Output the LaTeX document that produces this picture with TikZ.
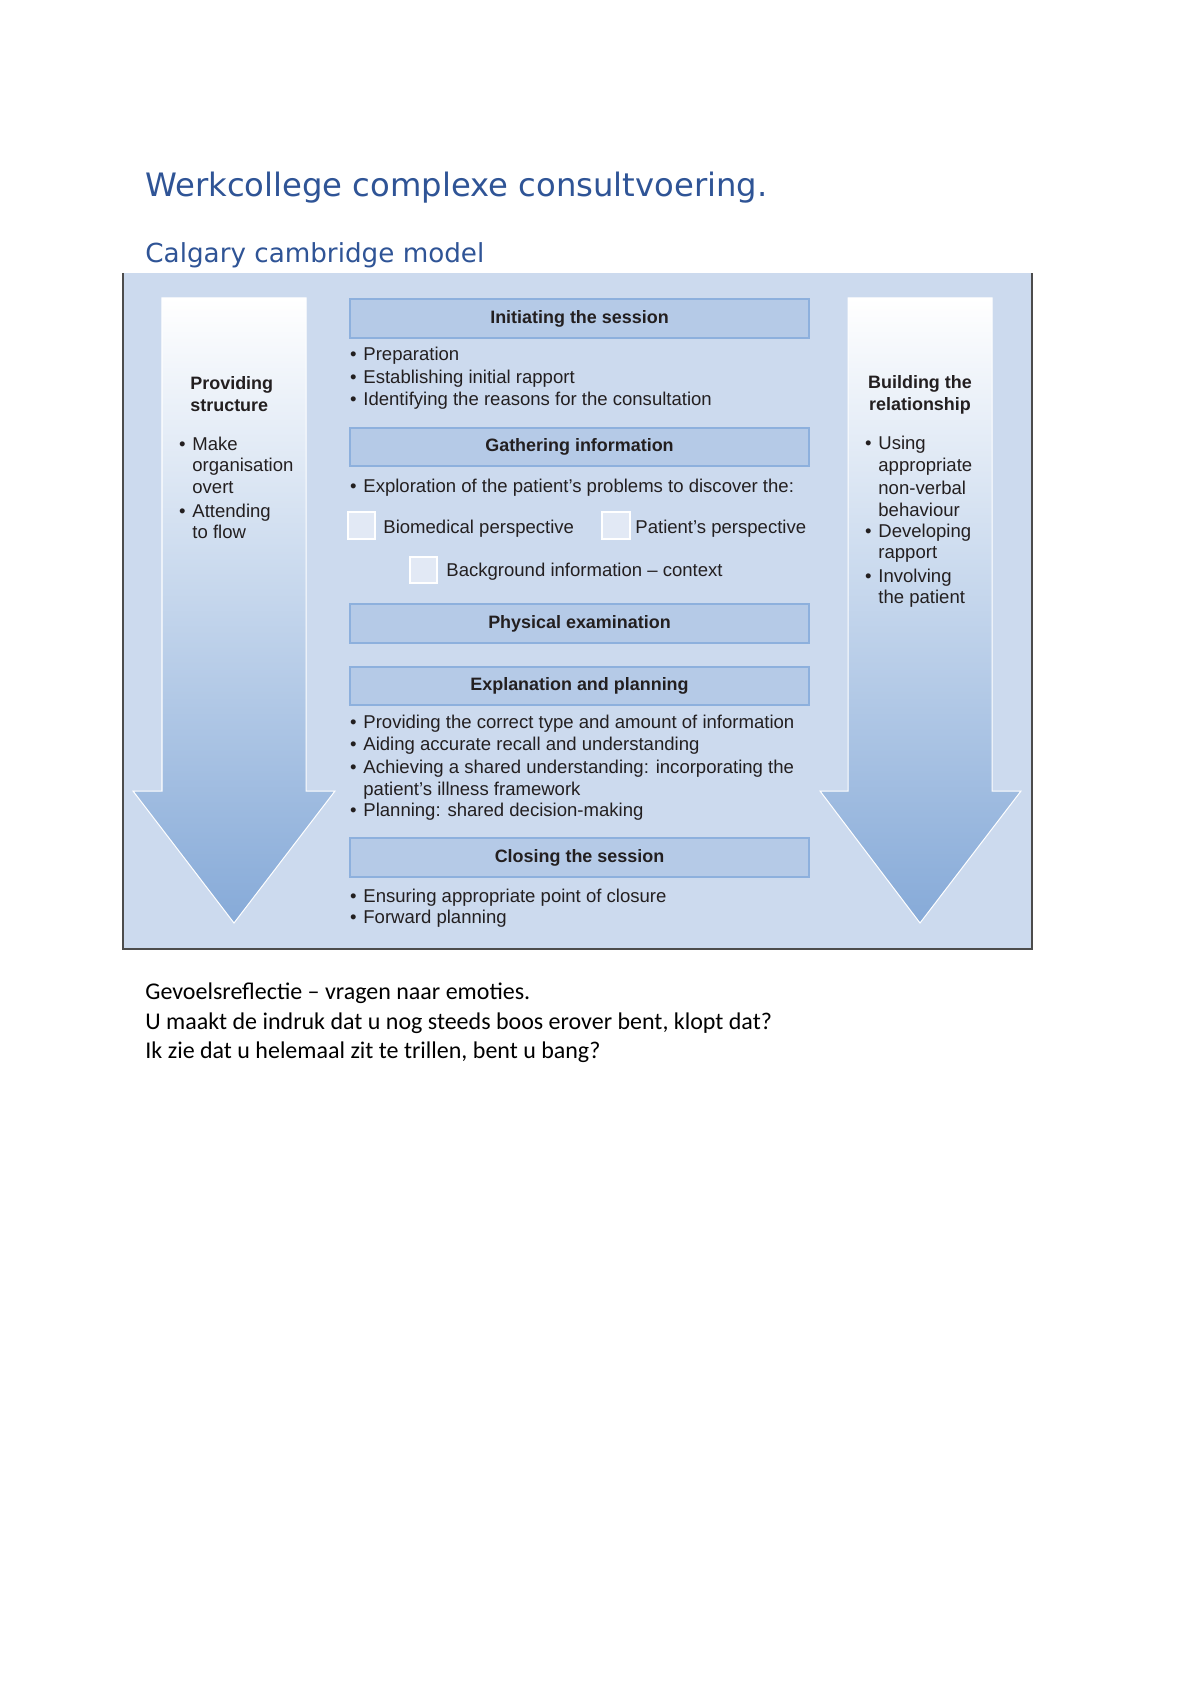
\documentclass[tikz,border=0pt]{standalone}
\usepackage{fontspec}
\setmainfont{Liberation Sans}
\newfontfamily\headfont{DejaVu Sans}
\newfontfamily\notefont{Carlito}

\definecolor{headblue}{HTML}{2F5496}
\definecolor{panelblue}{HTML}{CCDAEE}
\definecolor{stagefill}{HTML}{B5CAE7}
\definecolor{stageline}{HTML}{8DB0DD}
\definecolor{arrowblue}{HTML}{86AAD8}
\definecolor{chkfill}{HTML}{E2E9F5}
\definecolor{inktext}{HTML}{231F20}

\newcommand{\itembul}{\llap{\textbullet\hspace{3.4pt}}}

\tikzset{
  stagebox/.style={draw=stageline, fill=stagefill, line width=0.75pt},
  stagetitle/.style={font=\fontsize{8.9}{10}\selectfont\bfseries, text=inktext},
  bodytext/.style={anchor=base west, inner sep=0pt, font=\fontsize{9.2}{10.9}\selectfont, text=inktext},
  sidehead/.style={anchor=base west, inner sep=0pt, font=\fontsize{8.9}{10.9}\selectfont\bfseries, text=inktext},
  chkbox/.style={draw=white, fill=chkfill, line width=0.6pt},
  flowarrow/.style={draw=white, line width=0.5pt, top color=white, bottom color=arrowblue},
  notetext/.style={anchor=base west, inner sep=0pt, font=\notefont\fontsize{11.9}{14}\selectfont},
}

\begin{document}
\begin{tikzpicture}[x=0.49608pt, y=-0.49608pt]
\useasboundingbox (0,0) rectangle (1200,1698);
\fill[white] (0,0) rectangle (1200,1698);

\node[anchor=base west, inner sep=0pt, font=\headfont\fontsize{16}{19}\selectfont, text=headblue] (title) at (145,197) {Werkcollege complexe consultvoering.};
\node[anchor=base west, inner sep=0pt, font=\headfont\fontsize{13}{15}\selectfont, text=headblue] (subtitle) at (145,263) {Calgary cambridge model};

\fill[panelblue] (123,273) rectangle (1032,949);
\draw[black!70, line width=0.75pt] (123,273) -- (123,949) -- (1032,949) -- (1032,273);

\shadedraw[flowarrow] (162,298) -- (306,298) -- (306,791) -- (335,791) -- (234,923) -- (133,791) -- (162,791) -- cycle;
\shadedraw[flowarrow] (848,298) -- (992,298) -- (992,791) -- (1021,791) -- (920,923) -- (820,791) -- (848,791) -- cycle;

\draw[stagebox] (350,299) rectangle (809,338) node[midway, stagetitle] (initbox) {Initiating the session};
\draw[stagebox] (350,428) rectangle (809,466) node[midway, stagetitle] (gatherbox) {Gathering information};
\draw[stagebox] (350,604) rectangle (809,643) node[midway, stagetitle] (physbox) {Physical examination};
\draw[stagebox] (350,667) rectangle (809,705) node[midway, stagetitle] (explbox) {Explanation and planning};
\draw[stagebox] (350,838) rectangle (809,877) node[midway, stagetitle] (closebox) {Closing the session};

\foreach \yy/\txt [count=\i] in {361/\itembul Preparation, 384/\itembul Establishing initial rapport, 406/\itembul Identifying the reasons for the consultation}
  \node[bodytext] (init-\i) at (363,\yy) {\txt};

\node[bodytext] (gather-1) at (363,492) {\itembul Exploration of the patient’s problems to discover the:};
\draw[chkbox] (348,512) rectangle (375,539);
\node[bodytext] (biomed) at (383,533) {Biomedical perspective};
\draw[chkbox] (602,512) rectangle (630,539);
\node[bodytext] (patpersp) at (635,533) {Patient’s perspective};
\draw[chkbox] (410,557) rectangle (437,583);
\node[bodytext] (backgr) at (446,576) {Background information – context};

\foreach \yy/\txt [count=\i] in {728/\itembul Providing the correct type and amount of information, 750/\itembul Aiding accurate recall and understanding, 773/\itembul Achieving a shared understanding: incorporating the, 795/patient’s illness framework, 816/\itembul Planning: shared decision-making}
  \node[bodytext] (expl-\i) at (363,\yy) {\txt};

\foreach \yy/\txt [count=\i] in {902/\itembul Ensuring appropriate point of closure, 923/\itembul Forward planning}
  \node[bodytext] (close-\i) at (363,\yy) {\txt};

\node[sidehead] (structhead-1) at (190,390) {Providing};
\node[sidehead] (structhead-2) at (190,412) {structure};
\foreach \yy/\txt [count=\i] in {451/\itembul Make, 472/organisation, 493/overt, 517/\itembul Attending, 538/to flow}
  \node[bodytext] (struct-\i) at (192,\yy) {\txt};

\node[sidehead, anchor=base] (relhead-1) at (920,389) {Building the};
\node[sidehead, anchor=base] (relhead-2) at (920,411) {relationship};
\foreach \yy/\txt [count=\i] in {450/\itembul Using, 472/appropriate, 494/non-verbal, 516/behaviour, 537/\itembul Developing, 558/rapport, 582/\itembul Involving, 603/the patient}
  \node[bodytext] (rel-\i) at (878,\yy) {\txt};

\foreach \yy/\txt [count=\i] in {999/Gevoelsreflectie – vragen naar emoties., 1029/{U maakt de indruk dat u nog steeds boos erover bent, klopt dat?}, 1058/{Ik zie dat u helemaal zit te trillen, bent u bang?}}
  \node[notetext] (note-\i) at (145,\yy) {\txt};

\end{tikzpicture}
\end{document}
